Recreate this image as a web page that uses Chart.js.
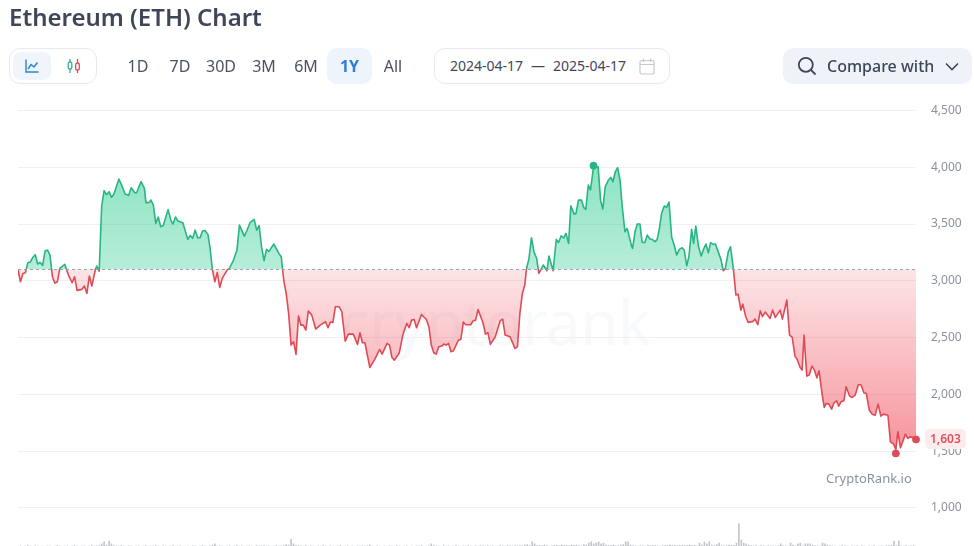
<!DOCTYPE html>
<html><head><meta charset="utf-8">
<script src="https://cdn.jsdelivr.net/npm/chart.js@4"></script>
<style>
html,body{margin:0;padding:0;background:#fff;width:974px;height:546px;overflow:hidden;font-family:"Noto Sans",sans-serif}
#wrap{position:relative;width:974px;height:546px;overflow:hidden}
#wrap>*{position:absolute}
canvas{left:0;top:0;z-index:1}
.ui{z-index:2;box-sizing:border-box}
.t{z-index:2;white-space:nowrap;line-height:1}
.box{border:1px solid #e6e9ef;border-radius:11px;background:#fff}
.rng{top:58px;font-size:16px;color:#4a5163;transform:translateX(-50%)}
#wm{z-index:0;left:340px;top:290px;font-size:62px;color:#f7f9fb;font-weight:400;letter-spacing:-.5px;line-height:1}
</style></head><body>
<div id="wrap">
<div id="wm">cryptorank</div>
<canvas id="c" width="974" height="552"></canvas>
<div class="t" style="left:9px;top:5px;font-size:24px;font-weight:600;color:#3f4658">Ethereum (ETH) Chart</div>
<div class="ui box" style="left:9px;top:48px;width:88px;height:36px"></div>
<div class="ui" style="left:13px;top:52px;width:38px;height:28px;background:#eff5fb;border-radius:8px"></div>
<svg class="ui" style="left:24px;top:58px" width="16" height="16" viewBox="0 0 16 16" fill="none" stroke="#2b83d6" stroke-width="1.4"><path d="M2 1.5V14H14.5"/><path d="M4 11L7 6.5L10 9L13.5 4.5"/></svg>
<svg class="ui" style="left:66px;top:58px" width="16" height="16" viewBox="0 0 16 16" fill="none" stroke-width="1.3"><g stroke="#2bb585"><path d="M4 1V15"/><rect x="2.2" y="4" width="3.6" height="7" rx="1.6" fill="#fff"/></g><g stroke="#e04a55"><path d="M11.5 1V15"/><rect x="9.7" y="5" width="3.6" height="7" rx="1.6" fill="#fff"/></g></svg>
<div class="t rng" style="left:138px">1D</div>
<div class="t rng" style="left:180px">7D</div>
<div class="t rng" style="left:221px">30D</div>
<div class="t rng" style="left:264px">3M</div>
<div class="t rng" style="left:306px">6M</div>
<div class="ui" style="left:327px;top:48px;width:45px;height:36px;background:#eef4fb;border-radius:10px"></div>
<div class="t rng" style="left:349.5px;color:#2f7fd4;font-weight:700">1Y</div>
<div class="t rng" style="left:393px">All</div>
<div class="ui box" style="left:434px;top:48px;width:236px;height:36px"></div>
<div class="t" style="left:450px;top:59px;font-size:14px;color:#3f4658">2024-04-17</div>
<div class="t" style="left:531px;top:59px;font-size:14px;color:#3f4658">—</div>
<div class="t" style="left:553px;top:59px;font-size:14px;color:#3f4658">2025-04-17</div>
<svg class="ui" style="left:639px;top:58px" width="16" height="17" viewBox="0 0 16 17" fill="none" stroke="#c4c8cf" stroke-width="1.2"><rect x="1" y="2.5" width="14" height="13.5" rx="1.5"/><path d="M1 6.5H15M4.5 .5V4M11.5 .5V4"/></svg>
<div class="ui" style="left:783px;top:48px;width:189px;height:36px;background:#eff3f9;border-radius:10px"></div>
<svg class="ui" style="left:797px;top:56px" width="20" height="20" viewBox="0 0 20 20" fill="none" stroke="#3f4658" stroke-width="1.8"><circle cx="8.8" cy="8.8" r="7"/><path d="M14 14L18.5 18.5"/></svg>
<div class="t" style="left:827px;top:58px;font-size:16px;font-weight:500;color:#3f4658">Compare with</div>
<svg class="ui" style="left:945px;top:62px" width="14" height="9" viewBox="0 0 14 9" fill="none" stroke="#3f4658" stroke-width="1.6"><path d="M1 1.5L7 7.5L13 1.5"/></svg>
<div class="t" style="left:826px;top:472px;font-size:13px;color:#8a919e">CryptoRank.io</div>
<div class="ui" style="left:925px;top:429px;width:41px;height:20px;background:#fdecee;border-radius:5px"></div>
<div class="t" style="left:930px;top:433px;font-size:12px;font-weight:600;color:#e0505b">1,603</div>
</div>
<script>
const tickValues = [1000,1500,2000,2500,3000,3500,4000,4500];
const basePrice = 3100;
const days = [0,1,2,3,4,5,6,7,8,9,10,11,12,13,14,15,16,17,19,20.5,22,23,24,26,27,28,29,30,31.5,32,33,34,35,36,37,38,39,41,42.4,43.5,45,46,47.5,48.2,50,51.4,52,53.4,54,55,56,57,58,59,61,62.2,63,64,65,67,69,70,71,72,73,74,75,76,77.2,78,79,80,81,82,83,85,86,87.5,89,90,92,93,94.3,96,97,98,99,100,101,102,104,106,107,108,109,110,111,112,113,114,115,116,117,118,119.4,121,122.8,125,126,127,128,129,130.5,131.6,133,134.3,136.3,138,139,140,141,143,145,147,148,150,151,152,153,155,156.4,158,159,160,161,162,164,166,167,168,169,170,171,172.5,173,174,175,176,177,179,180,181,182,184,185,186,187,189,190,191,192,194,196,197,198,200,202,203,204,205,206,206.7,207.7,208.7,209.7,210.8,211.7,213.5,215,215.8,217.5,218.8,219.7,220.8,221.8,222.7,223.8,224.7,226,226.8,227.8,229,230,230.8,231.8,232.7,233.9,235.8,236.8,237.7,238.7,240,241,241.8,242.8,243.7,244.7,245.6,246.7,247.6,249.4,249.8,250.8,251.7,252.8,253.7,254.8,255.8,256.8,257.8,258.9,259.8,260.6,261.6,262.7,263.6,264.6,265.7,266.7,267.7,268.8,269.9,270.8,271.8,272.7,273.8,274.6,275.5,276.6,277.7,278.8,279.6,280.6,281.5,282.6,283.5,284.6,285.7,286.7,287.5,288.7,289.6,290.8,291.8,292.7,293.8,294.6,295.8,296.8,298.7,299.6,300.7,301.7,302.6,303.7,305.7,306.7,307.8,309.8,310.7,312.5,313.6,314.7,315.8,316.7,317.9,318.7,319.5,320.6,321.6,322.7,323.7,324.7,325.6,326.7,327.7,328.5,329.6,330.7,331.7,332.7,333.6,334.5,335.7,336.6,338,339,340.3,341.6,342.7,343.8,344.8,346,347.2,348.4,349.6,350.7,351.8,353.6,354.6,355.9,356.8,357.6,358.7,360.7,361.7,362.6,363.7,365];
const prices = [3100,2992,3065,3071,3160,3165,3206,3230,3148,3162,3136,3262,3271,3227,3036,2980,2992,3110,3145,3051,2983,3036,2916,2925,2954,2889,3042,2954,3104,3130,3086,3653,3794,3759,3785,3735,3765,3897,3829,3765,3753,3820,3776,3776,3873,3814,3688,3691,3712,3668,3506,3562,3477,3486,3627,3530,3500,3562,3527,3512,3365,3400,3374,3447,3380,3380,3439,3444,3409,3300,3101,2992,3074,2942,3021,3095,3113,3177,3271,3491,3394,3441,3512,3541,3447,3486,3300,3177,3277,3259,3324,3242,3212,3007,2889,2713,2434,2463,2352,2690,2610,2610,2566,2734,2698,2575,2610,2640,2587,2637,2634,2772,2772,2728,2469,2531,2531,2440,2543,2455,2455,2237,2308,2396,2355,2449,2434,2325,2302,2367,2522,2625,2587,2654,2660,2587,2704,2660,2596,2434,2367,2355,2419,2428,2443,2434,2449,2375,2384,2478,2484,2637,2613,2613,2649,2654,2748,2631,2531,2543,2440,2508,2649,2663,2522,2508,2405,2419,2713,2889,2963,3109,3197,3380,3256,3197,3065,3139,3089,3218,3089,3365,3338,3397,3377,3418,3330,3661,3588,3594,3711,3711,3644,3629,3844,3800,4000,4005,3706,3632,3829,3888,3911,3873,3961,3996,3888,3653,3432,3462,3306,3286,3432,3500,3500,3338,3338,3403,3368,3365,3344,3365,3447,3594,3659,3647,3694,3382,3315,3227,3277,3291,3271,3133,3212,3453,3330,3482,3300,3218,3286,3324,3247,3336,3321,3324,3256,3189,3089,3109,3256,3300,3100,2875,2883,2742,2795,2684,2634,2643,2663,2613,2737,2684,2725,2669,2742,2678,2742,2663,2831,2522,2502,2337,2308,2237,2214,2522,2161,2170,2249,2214,2146,2208,2023,1885,1920,1914,1870,1926,1944,1897,1935,1944,2067,1985,1973,1994,2087,2082,2014,2008,1861,1826,1817,1914,1808,1826,1817,1582,1562,1515,1670,1530,1650,1612,1626,1620,1603];
const volumes = [14,15,13,14,16,14,13,15,14,13,14,13,15,14,13,14,16,14,13,14,15,13,14,16,14,13,14,15,13,14,16,14,15,17,24,33,19,37,24,16,15,14,16,14,13,15,14,13,14,15,13,14,16,13,14,15,17,14,13,15,14,13,14,16,13,14,15,13,14,14,13,15,14,13,14,16,14,13,15,19,24,14,15,14,13,14,15,13,14,16,14,15,13,14,15,14,13,16,14,15,17,14,15,13,14,16,14,15,17,21,19,46,24,17,16,15,14,16,14,15,14,13,15,14,16,14,13,15,14,13,14,16,13,14,15,13,14,13,15,14,15,14,16,19,14,13,15,14,13,14,13,15,14,13,16,14,13,14,15,13,14,13,15,14,16,13,14,15,24,16,15,14,13,16,14,15,13,14,16,14,13,15,14,16,14,13,15,14,17,15,14,16,14,15,13,14,17,15,14,16,15,14,16,15,17,16,19,21,17,33,24,17,16,15,19,16,14,15,17,16,15,19,16,17,15,19,16,19,17,15,21,19,28,33,24,28,33,24,28,19,17,16,19,15,17,19,21,33,33,19,16,15,14,16,15,14,16,15,17,16,15,14,17,16,15,19,16,17,15,16,17,15,16,19,17,16,15,28,19,33,24,33,19,16,21,28,17,15,16,19,16,17,28,115,41,28,24,19,16,15,17,14,16,15,14,16,14,15,14,16,24,16,15,14,28,19,15,24,28,15,24,24,24,19,16,15,14,28,24,19,16,15,14,13,14,16,15,14,13,15,14,16,13,15,14,13,15,14,16,13,14,15,13,16,17,19,37,17,37,15,14,16,14,15,16,14];
const highPoint = [233.9, 4014];
const lowPoint = [356.8, 1480];
const lastPoint = [365, 1603];

const xy = (xs, ys) => xs.map((x, i) => ({x, y: ys[i]}));
const chart = new Chart(document.getElementById('c'), {
  data: { datasets: [
    { type:'line', label:'Base', data:[{x:0,y:basePrice},{x:365,y:basePrice}], borderColor:'#9ba0a8', borderWidth:1, borderDash:[3,3], pointRadius:0, fill:false, order:1 },
    { type:'scatter', label:'High', data:[{x:highPoint[0],y:highPoint[1]}], backgroundColor:'#26b583', borderColor:'#26b583', pointRadius:3.5, clip:false, order:0 },
    { type:'scatter', label:'Low', data:[{x:lowPoint[0],y:lowPoint[1]}], backgroundColor:'#e04a55', borderColor:'#e04a55', pointRadius:3.5, clip:false, order:0 },
    { type:'scatter', label:'Last', data:[{x:lastPoint[0],y:lastPoint[1]}], backgroundColor:'#e04a55', borderColor:'#e04a55', pointRadius:3.5, clip:false, order:0 },
    { type:'line', label:'Price', data:xy(days, prices), borderColor:'#26b583', borderWidth:1.6, pointRadius:0, tension:0, fill:false, order:2, borderJoinStyle:'round' },
    { type:'bar', label:'Volume', yAxisID:'y1', data:xy(volumes.map((_, i) => i), volumes), backgroundColor:'rgba(120,128,142,.45)', barThickness:1, order:3 }
  ]},
  options: {
    responsive:false, animation:false, events:[],
    layout:{ padding:{ left:18, top:110.5, right:0, bottom:0 } },
    plugins:{ legend:{display:false}, tooltip:{enabled:false} },
    scales:{
      x:{ type:'linear', min:0, max:365, display:false, offset:false, grid:{offset:false} },
      y:{ position:'right', min:656, max:4500,
          afterBuildTicks:s => { s.ticks = tickValues.map(value => ({value})); },
          afterFit:s => { s.width = 58; s.paddingBottom = 0; s.paddingTop = 0; },
          grid:{ color:'#eef0f3', lineWidth:1, drawTicks:false },
          border:{ display:false },
          ticks:{ padding:15, color:'#8a919e', font:{ family:'"Noto Sans"', size:12 }, callback:v => v.toLocaleString('en-US') } },
      y1:{ display:false, min:10, max:1990 }
    }
  }
});

const ctx = chart.ctx, yS = chart.scales.y, baseY = yS.getPixelForValue(basePrice);
const topY = yS.getPixelForValue(Math.max(...prices)), botY = yS.getPixelForValue(Math.min(...prices));
const line = ctx.createLinearGradient(0, 0, 0, chart.height);
const f = baseY / chart.height;
line.addColorStop(0, '#26b583'); line.addColorStop(f, '#26b583');
line.addColorStop(f, '#e04a55'); line.addColorStop(1, '#e04a55');
const up = ctx.createLinearGradient(0, topY, 0, baseY);
up.addColorStop(0, 'rgba(30,200,135,.50)'); up.addColorStop(1, 'rgba(30,200,135,.32)');
const down = ctx.createLinearGradient(0, baseY, 0, botY);
down.addColorStop(0, 'rgba(240,70,85,.14)'); down.addColorStop(1, 'rgba(238,60,75,.55)');
const p = chart.data.datasets[4];
p.borderColor = line;
p.fill = { target:{ value:basePrice }, above:up, below:down };
chart.update('none');
</script>
</body></html>
